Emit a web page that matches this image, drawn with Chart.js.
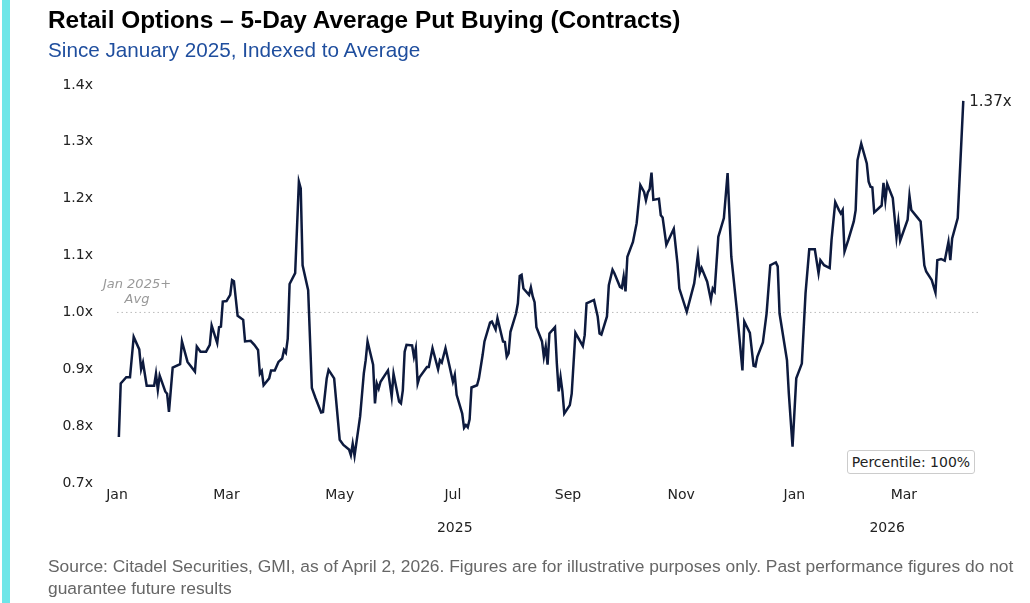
<!DOCTYPE html>
<html>
<head>
<meta charset="utf-8">
<script src="https://cdn.jsdelivr.net/npm/chart.js@4.4.1/dist/chart.umd.min.js"></script>
<style>
  body { margin:0; background:#fff; }
  #wrap { position:relative; width:1030px; height:603px; overflow:hidden; }
  #bar { position:absolute; left:2px; top:0; width:8px; height:603px; background:#6ee6e8; }
  #title { position:absolute; left:48px; top:6px; font:bold 24.4px "Liberation Sans", Arial, sans-serif; color:#000; white-space:nowrap; }
  #subtitle { position:absolute; left:48px; top:38px; font:20.7px "Liberation Sans", Arial, sans-serif; color:#1f4e9e; white-space:nowrap; }
  #footer { position:absolute; left:48px; top:555px; font:17.4px/22px "Liberation Sans", Arial, sans-serif; color:#666; white-space:nowrap; }
  #pct { position:absolute; left:847px; top:450px; width:126px; height:22px; border:1px solid #ccc; border-radius:3px; background:#fff;
         font:14px "DejaVu Sans", sans-serif; color:#222; text-align:center; line-height:22px; }
  canvas { position:absolute; left:0; top:0; }
</style>
</head>
<body>
<div id="wrap">
  <div id="bar"></div>
  <canvas id="chart" width="1030" height="603"></canvas>
  <div id="title">Retail Options – 5-Day Average Put Buying (Contracts)</div>
  <div id="subtitle">Since January 2025, Indexed to Average</div>
  <div id="pct">Percentile: 100%</div>
  <div id="footer">Source: Citadel Securities, GMI, as of April 2, 2026. Figures are for illustrative purposes only. Past performance figures do not<br>guarantee future results</div>
</div>
<script>
// days since Jan 1 2025
var days = [1,2,5,7,9,12,13,14,16,20,21,22,23,26,27,28,30,34,35,38,42,43,45,48,50,51,54,55,56,57,59,61,62,63,65,68,69,72,74,76,77,78,79,82,83,85,87,89,90,91,92,93,96,98,99,100,103,105,107,110,111,113,114,117,120,122,125,126,127,128,131,133,134,135,138,139,140,141,142,146,148,149,152,153,154,155,156,159,160,161,162,163,167,168,170,173,174,175,177,179,181,182,183,186,187,188,189,190,191,194,195,197,198,201,202,204,205,208,209,210,211,212,215,216,217,218,219,222,223,224,225,226,229,230,231,232,233,236,237,238,239,240,241,244,245,247,251,252,253,257,259,260,261,264,265,267,268,271,272,273,274,275,278,280,282,284,285,286,287,288,289,292,293,294,296,298,300,302,303,307,311,313,314,315,318,320,321,322,324,327,329,331,334,337,338,341,343,344,345,348,350,352,355,356,357,361,362,364,366,369,371,373,376,378,379,381,384,385,387,389,390,391,392,394,397,398,399,401,404,405,406,407,408,412,413,414,415,418,420,421,422,426,427,428,431,433,435,436,439,441,442,444,446,448,449,450,453,456];
var putBuying = [0.781,0.875,0.886,0.886,0.957,0.935,0.900,0.912,0.871,0.871,0.892,0.864,0.889,0.861,0.857,0.825,0.903,0.909,0.949,0.913,0.896,0.940,0.931,0.931,0.943,0.977,0.946,0.974,0.975,1.019,1.020,1.031,1.057,1.055,0.994,0.987,0.949,0.950,0.943,0.934,0.892,0.897,0.872,0.884,0.898,0.898,0.913,0.919,0.934,0.929,0.954,1.050,1.069,1.230,1.218,1.083,1.039,0.867,0.849,0.824,0.825,0.884,0.899,0.884,0.776,0.767,0.759,0.749,0.769,0.748,0.817,0.893,0.916,0.949,0.908,0.840,0.875,0.866,0.878,0.898,0.852,0.892,0.843,0.840,0.863,0.931,0.943,0.942,0.922,0.937,0.875,0.886,0.904,0.904,0.937,0.900,0.916,0.912,0.937,0.908,0.878,0.890,0.855,0.822,0.797,0.802,0.798,0.812,0.868,0.872,0.884,0.925,0.949,0.982,0.984,0.970,0.990,0.949,0.948,0.922,0.928,0.966,0.998,1.016,1.064,1.066,1.042,1.031,1.044,1.028,1.018,0.974,0.949,0.922,0.940,0.908,0.963,0.974,0.910,0.861,0.886,0.861,0.822,0.837,0.857,0.964,0.941,0.960,1.016,1.022,0.993,0.963,0.961,0.993,1.048,1.075,1.069,1.045,1.043,1.063,1.037,1.098,1.124,1.157,1.224,1.212,1.197,1.211,1.217,1.246,1.198,1.200,1.171,1.167,1.119,1.133,1.147,1.086,1.042,1.001,1.051,1.101,1.069,1.078,1.054,1.022,1.042,1.037,1.133,1.166,1.245,1.098,1.004,0.898,0.984,0.964,0.906,0.905,0.922,0.947,0.998,1.083,1.088,1.081,0.998,0.916,0.857,0.764,0.884,0.910,1.034,1.111,1.111,1.069,1.092,1.083,1.078,1.127,1.194,1.180,1.174,1.180,1.107,1.127,1.160,1.180,1.268,1.297,1.262,1.230,1.221,1.220,1.176,1.188,1.228,1.197,1.226,1.201,1.132,1.160,1.126,1.163,1.205,1.180,1.168,1.160,1.083,1.072,1.057,1.035,1.092,1.094,1.091,1.124,1.092,1.130,1.166,1.372];

var monthTicks = [0, 59, 120, 181, 243, 304, 365, 424];
var monthLabels = ['Jan', 'Mar', 'May', 'Jul', 'Sep', 'Nov', 'Jan', 'Mar'];
var yearTicks = [182, 415];
var yearLabels = ['2025', '2026'];
var yTicks = [0.7, 0.8, 0.9, 1.0, 1.1, 1.2, 1.3, 1.4];
var avgLevel = 1.0;
var lastLabel = '1.37x';

var xMin = 0, xMax = 465;

var tickFont = { family: 'DejaVu Sans', size: 14 };

// last value label + avg note
var annotate = {
    id: 'annotate',
    afterDatasetsDraw: function(chart) {
        var ctx = chart.ctx;
        var meta = chart.getDatasetMeta(0);
        var last = meta.data[meta.data.length - 1];
        ctx.save();
        ctx.font = '15px "DejaVu Sans"';
        ctx.fillStyle = '#222';
        ctx.textAlign = 'left';
        ctx.textBaseline = 'middle';
        ctx.fillText(lastLabel, last.x + 6, last.y + 1);

        var y = chart.scales.y.getPixelForValue(avgLevel);
        ctx.font = 'italic 13px "DejaVu Sans"';
        ctx.fillStyle = '#999';
        ctx.textAlign = 'center';
        ctx.fillText('Jan 2025+', 137, y - 28);
        ctx.fillText('Avg', 137, y - 13);
        ctx.restore();
    }
};

var ctx = document.getElementById('chart').getContext('2d');
new Chart(ctx, {
    type: 'line',
    data: {
        datasets: [{
            data: days.map(function(d, i) { return { x: d, y: putBuying[i] }; }),
            borderColor: '#0d1a3e',
            borderWidth: 2.5,
            pointRadius: 0,
            tension: 0,
            fill: false
        }, {
            data: [{ x: xMin, y: avgLevel }, { x: xMax, y: avgLevel }],
            borderColor: '#bbbbbb',
            borderWidth: 1,
            borderDash: [1.5, 3],
            pointRadius: 0,
            fill: false
        }]
    },
    options: {
        responsive: false,
        animation: false,
        layout: { padding: { left: 0, right: 50, top: 85, bottom: 60 } },
        plugins: { legend: { display: false }, tooltip: { enabled: false } },
        scales: {
            x: {
                type: 'linear', min: xMin, max: xMax, weight: 0,
                grid: { display: false, drawTicks: false }, border: { display: false },
                afterBuildTicks: function(s) { s.ticks = monthTicks.map(function(v) { return { value: v }; }); },
                afterFit: function(s) { s.height = 30; },
                ticks: {
                    autoSkip: false, maxRotation: 0, padding: 4, color: '#222', font: tickFont,
                    callback: function(v) { return monthLabels[monthTicks.indexOf(v)]; }
                }
            },
            xYear: {
                type: 'linear', position: 'bottom', min: xMin, max: xMax, weight: 1,
                grid: { display: false, drawTicks: false }, border: { display: false },
                afterBuildTicks: function(s) { s.ticks = yearTicks.map(function(v) { return { value: v }; }); },
                afterFit: function(s) { s.height = 30; },
                ticks: {
                    autoSkip: false, maxRotation: 0, padding: 7, color: '#222', font: tickFont,
                    callback: function(v) { return yearLabels[yearTicks.indexOf(v)]; }
                }
            },
            y: {
                min: 0.7, max: 1.4,
                grid: { display: false, drawTicks: false }, border: { display: false },
                afterBuildTicks: function(s) { s.ticks = yTicks.map(function(v) { return { value: v }; }); },
                afterFit: function(s) { s.width = 117; },
                ticks: {
                    padding: 24, color: '#222', font: tickFont,
                    callback: function(v) { return v.toFixed(1) + 'x'; }
                }
            }
        }
    },
    plugins: [annotate]
});
</script>
</body>
</html>
